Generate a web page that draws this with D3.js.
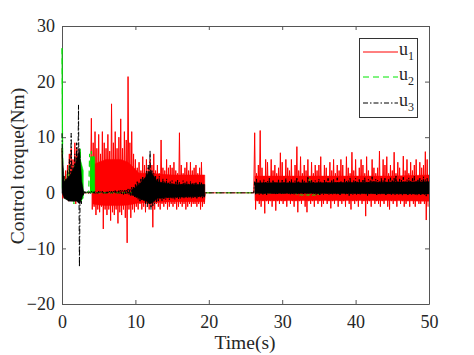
<!DOCTYPE html>
<html>
<head>
<meta charset="utf-8">
<script src="https://cdn.jsdelivr.net/npm/d3@7"></script>
<style>
  html, body { margin: 0; padding: 0; background: #fff; }
  svg { display: block; }
  text { font-family: "Liberation Serif", "Times New Roman", serif; }
</style>
</head>
<body>
<svg id="chart" width="474" height="355"></svg>
<script>
// ---- data (one peak/trough pair per 0.25 s bin) ----
const binWidth = 0.25;
const xTicks = [0, 10, 20, 30, 40, 50];
const yTicks = [-20, -10, 0, 10, 20, 30];
const seriesNames = ["u1", "u2", "u3"];

const u1Hi = [
  8,3,4,5, 7,8,6,9, 8,7,2,0.5, 0,0,0,0, 13.4,9,11,8,
  10.5,7,11,9, 8,10.5,7.5,16, 9,11,8,10, 13.3,8,11,9.5, 20.9,9,11,7,
  6,4.5,5.5,4, 6.5,5,6,4.5, 6,5,7,4, 5,3.5,9.5,4.5, 4,6,4.5,5,
  4.5,5.5,4,3.5, 10.8,5,3.5,4.5, 5.5,4,5.5,4, 4.5,5,3.5,4.5, 5.5,3,0,0,
  0,0,0,0, 0,0,0,0, 0,0,0,0, 0,0,0,0, 0,0,0,0,
  0,0,0,0, 0,10.8,3.5,5, 11.2,4.5,3,6, 5.5,3,6,4, 5,3.5,4.5,7.2,
  5.5,3,6,4.5, 4,6,3,5, 8.3,4,6.5,3.5, 5,4,6,3, 5.5,3.5,5,4,
  5,6.5,3,5, 4.5,3,5.5,4, 6,3.5,5,4, 6,5,3,6.5, 4.5,3.5,7.3,4,
  6,3,4.5,6, 5,3.5,6.5,4, 3,6,4.5,3.5, 4.5,7.5,3,6, 5,6.5,3.5,5,
  4,7.3,3.5,5.5, 4.5,3,6.6,4, 6,3.5,5.5,4, 5,6,3,5.5, 4.5,5,7.4,6
];
const u1Lo = [
  -1,-0.5,-1,-1.5, -1,-1.5,-1,-2, -1,-1.5,-0.5,0, 0,0,0,0, -3,-2.5,-4,-3,
  -3.5,-2.5,-6.5,-3, -4,-3,-5,-3.5, -4,-3,-5.5,-3.5, -4,-3,-4.5,-9, -3,-4.5,-3,-3.5,
  -2.5,-3,-2,-3, -2.5,-3.5,-2,-3, -2.5,-6.2,-3,-2, -2.5,-3,-2,-2.5, -2,-3,-2.5,-2,
  -2.5,-2,-3,-2.5, -2,-2.5,-2,-3, -2.5,-2,-2.5,-2, -2,-2.5,-2,-3, -2.5,-2,0,0,
  0,0,0,0, 0,0,0,0, 0,0,0,0, 0,0,0,0, 0,0,0,0,
  0,0,0,0, 0,-3,-1.5,-2, -2.5,-1.5,-3.7,-1.5, -2,-1.5,-2.5,-1.5, -3.2,-1.5,-2,-1.5,
  -2,-1.5,-2.5,-1.2, -2,-1.5,-2.5,-1.5, -3.5,-1.5,-2,-1.2, -2.5,-3.5,-1.5,-2, -1.5,-2.5,-1.2,-2,
  -1.5,-2.5,-2,-1.2, -2,-1.5,-2.8,-1.5, -2,-1.2,-2.5,-1.5, -2,-1.5,-2.5,-1.2, -2,-3,-1.5,-2,
  -1.5,-2.5,-1.2,-2, -1.5,-4.2,-2,-1.5, -2.5,-1.2,-2,-1.5, -2,-2.5,-1.5,-2, -1.2,-2.5,-3,-1.5,
  -2,-1.5,-2.5,-1.2, -2,-1.5,-2.5,-2, -1.5,-2.5,-1.2,-2, -2.5,-1.5,-2,-2, -1.5,-2,-4.9,-2.5
];
const u2Hi = [
  26,3,2,4, 5,3,4,5, 6,4,8,3, 0.1,0.1,0.1,7, 7.5,6.5,0.1,0.1,
  0.1,0.1,0.1,0.1, 0.1,0.1,0.1,0.1, 0.1,0.1,0.1,0.1, 0.1,0.1,0.1,0.1, 0.1,0.1,0.1,0.1,
  0.1,0.1,0.1,0.1, 0.1,0.1,0.1,0.1, 0.1,0.1,0.1,0.1, 0.1,0.1,0.1,0.1, 0.1,0.1,0.1,0.1,
  0.1,0.1,0.1,0.1, 0.1,0.1,0.1,0.1, 0.1,0.1,0.1,0.1, 0.1,0.1,0.1,0.1, 0.1,0.1,0,0,
  0,0,0,0, 0,0,0,0, 0,0,0,0, 0,0,0,0, 0,0,0,0,
  0,0,0,0, 0,0.1,0.1,0.1, 0.1,0.1,0.1,0.1, 0.1,0.1,0.1,0.1, 0.1,0.1,0.1,0.1,
  0.1,0.1,0.1,0.1, 0.1,0.1,0.1,0.1, -0.3,-0.3,-0.3,-0.3, -0.3,-0.3,-0.3,2.5, -0.3,-0.3,-0.3,-0.3,
  0.1,0.1,0.1,0.1, 0.1,0.1,0.1,0.1, 0.1,0.1,0.1,0.1, 0.1,0.1,0.1,0.1, 0.1,0.1,0.1,0.1,
  0.1,0.1,0.1,0.1, 0.1,0.1,0.1,0.1, 0.1,0.1,0.1,0.1, 0.1,0.1,0.1,0.1, 0.1,0.1,0.1,0.1,
  0.1,0.1,0.1,0.1, 0.1,0.1,0.1,0.1, 0.1,0.1,0.1,0.1, 0.1,0.1,0.1,0.1, 0.1,0.1,0.1,0.1
];
const u2Lo = [
  1,-1,-1.5,-1, -1.5,-1,-2,-1, -1.5,-1,-1.6,-0.5, 0,0,0,0, 0,0,0,0,
  -0.1,-0.1,-0.1,-0.1, -0.1,-0.1,-0.1,-0.1, -0.1,-0.1,-0.1,-0.1, -0.1,-0.1,-0.1,-0.1, -0.1,-0.1,-0.1,-0.1,
  -0.1,-0.1,-0.1,-0.1, -0.1,-0.1,-0.1,-0.1, -0.1,-0.1,-0.1,-0.1, -0.1,-0.1,-0.1,-0.1, -0.1,-0.1,-0.1,-0.1,
  -0.1,-0.1,-0.1,-0.1, -0.1,-0.1,-0.1,-0.1, -0.1,-0.1,-0.1,-0.1, -0.1,-0.1,-0.1,-0.1, -0.1,-0.1,0,0,
  0,0,0,0, 0,0,0,0, 0,0,0,0, 0,0,0,0, 0,0,0,0,
  0,0,0,0, 0,-0.1,-0.1,-0.1, -0.1,-0.1,-0.1,-0.1, -0.1,-0.1,-0.1,-0.1, -0.1,-0.1,-0.1,-0.1,
  -0.1,-0.1,-0.1,-0.1, -0.1,-0.1,-0.1,-0.1, -0.5,-0.5,-0.5,-0.5, -0.5,-0.5,-0.5,-0.5, -0.5,-0.5,-0.5,-0.5,
  -0.1,-0.1,-0.1,-0.1, -0.1,-0.1,-0.1,-0.1, -0.1,-0.1,-0.1,-0.1, -0.1,-0.1,-0.1,-0.1, -0.1,-0.1,-0.1,-0.1,
  -0.1,-0.1,-0.1,-0.1, -0.1,-0.1,-0.1,-0.1, -0.1,-0.1,-0.1,-0.1, -0.1,-0.1,-0.1,-0.1, -0.1,-0.1,-0.1,-0.1,
  -0.1,-0.1,-0.1,-0.1, -0.1,-0.1,-0.1,-0.1, -0.1,-0.1,-0.1,-0.1, -0.1,-0.1,-0.1,-0.1, -0.1,-0.1,-0.1,-0.1
];
const u3Hi = [
  10.7,3,2.5,4, 6,10.7,5,7, 9,15.8,4,1, 0.3,0.2,0.3,0.2, 0.3,0.2,0.3,0.2,
  0.3,0.2,0.3,0.2, 0.3,0.2,0.3,0.3, 0.3,0.4,0.3,0.4, 0.5,0.4,0.6,0.5, 0.7,0.8,1,1.2,
  1.5,2,1.8,2.5, 3,2.5,4,5, 7.6,4,3.5,3, 2.5,3,2,2.5, 2,2.5,1.8,2,
  2.2,1.8,2,2.3, 2,1.7,2.2,1.8, 2,1.6,2.1,1.8, 1.7,2,1.6,1.9, 1.8,1.5,0,0,
  0,0,0,0, 0,0,0,0, 0,0,0,0, 0,0,0,0, 0,0,0,0,
  0,0,0,0, 0,2,2.5,1.8, 2.2,1.6,2.4,1.9, 2.1,2.6,1.7,2.2, 2,1.8,2.5,1.7,
  2.3,1.9,2.6,1.8, 2.1,2.4,1.7,2.2, 2.8,2,1.8,2.5, 2.2,1.7,3,2.1, 2.4,1.9,2.2,1.8,
  2.5,2,1.7,2.3, 2.1,2.6,1.8,2.2, 2.4,1.9,2.7,2, 2.2,1.8,2.5,2.1, 2.3,2.8,1.9,2.2,
  2.6,2.1,2.4,1.9, 2.3,2.7,2,2.4, 2.2,2.9,2.1,2.5, 2.3,2,2.6,2.2, 2.8,2.1,2.4,2.7,
  2.2,2.6,3.2,2.1, 2.5,2.3,2.8,2, 2.4,2.7,2.1,2.6, 3,2.2,2.5,2.8, 2.3,2.9,2.4,2.6
];
const u3Lo = [
  1,-0.5,-1,-1.5, -0.5,-1,-1.5,-1, -1,-13.3,-2,-0.5, -0.1,-0.1,-0.1,-0.1, -0.1,-0.1,-0.1,-0.1,
  -0.1,-0.1,-0.1,-0.1, -0.1,-0.1,-0.1,-0.1, -0.1,-0.2,-0.1,-0.2, -0.2,-0.3,-0.2,-0.3, -0.4,-0.5,-0.6,-0.8,
  -1,-1.2,-1.5,-1.3, -1.5,-2,-2.5,-2, -3,-2.5,-2,-1.8, -1.5,-1.2,-1.4,-1.1, -1.2,-1,-1.3,-1,
  -1,-1.2,-0.9,-1.1, -1,-0.8,-1.1,-0.9, -1,-0.8,-1,-0.9, -0.8,-1,-0.9,-0.8, -1,-0.8,0,0,
  0,0,0,0, 0,0,0,0, 0,0,0,0, 0,0,0,0, 0,0,0,0,
  0,0,0,0, 0,-0.4,-0.2,-0.3, -0.1,-0.3,-0.2,-0.4, -0.2,-0.1,-0.3,-0.2, -0.4,-0.2,-0.1,-0.3,
  -0.2,-0.3,-0.1,-0.2, -0.4,-0.2,-0.3,-0.1, -0.2,-0.2,-0.1,-0.2, -0.1,-0.2,-0.1,-0.2, -0.1,-0.2,-0.3,-0.2,
  -0.4,-0.2,-0.3,-0.1, -0.2,-0.4,-0.2,-0.3, -0.1,-0.3,-0.2,-0.4, -0.2,-0.1,-0.3,-0.2, -0.5,-0.2,-0.3,-0.1,
  -0.3,-0.2,-0.4,-0.1, -0.2,-0.3,-0.5,-0.2, -0.1,-0.3,-0.2,-0.4, -0.2,-0.3,-0.1,-0.2, -0.4,-0.2,-0.3,-0.5,
  -0.2,-0.4,-0.1,-0.3, -0.2,-0.5,-0.3,-0.2, -0.4,-0.1,-0.3,-0.2, -0.3,-0.5,-0.2,-0.4, -0.2,-0.3,-0.6,-0.3
];

// dense "core" band of each signal (where the oscillation fills solid); null = no band
const u1CoreT  = [4.2, 5, 6, 7, 8, 9, 9.8, 10.5, 12, 15, 19.45, 23, 26.3, 30, 35, 40, 45, 50];
const u1CoreHi = [5, 5.5, 6, 6, 6, 5.5, 4.5, 3.5, 3.5, 3.2, 3.2, null, 3, 3, 3, 3, 3, 3.2];
const u1CoreLo = [-2, -2.2, -2.3, -2.3, -2.3, -2.2, -2, -1.8, -1.8, -1.6, -1.6, null, -1.4, -1.4, -1.4, -1.4, -1.4, -1.5];
const u2CoreT  = [0, 0.12, 0.3, 2.5, 2.9, 3.3, 3.9, 4.45];
const u2CoreHi = [26, 2, null, 6, 4, null, 6.5, 6.5];
const u2CoreLo = [1, 0, null, -1.5, -1, null, 0, 0];
const u3CoreT  = [0, 0.3, 1, 1.5, 2, 2.4, 2.7, 2.95, 6, 9.5, 10.5, 11.5, 12, 13, 15, 19.45, 23, 26.3, 35, 50];
const u3CoreHi = [8, 2, 3, 4, 6, 8, 2, 0.2, null, 0.5, 1.5, 3, 4, 2, 1.5, 1.5, null, 1.8, 1.8, 2];
const u3CoreLo = [0, -1, -1.5, -1.5, -1.5, -2, -1, -0.1, null, -0.3, -1, -1.5, -2, -1, -0.8, -0.6, null, -0.1, -0.1, -0.2];

// ---- layout ----
const svg = d3.select("#chart");
const plot = { left: 62, right: 429, top: 26, bottom: 304 };
const x = d3.scaleLinear().domain([0, 50]).range([plot.left, plot.right]);
const y = d3.scaleLinear().domain([-20, 30]).range([plot.bottom, plot.top]);
const axisColor = "#555";
const textColor = "#262626";

svg.append("rect").attr("width", 474).attr("height", 355).attr("fill", "#fff");

svg.append("defs").append("clipPath").attr("id", "clip")
  .append("rect")
  .attr("x", plot.left - 1).attr("y", plot.top)
  .attr("width", plot.right - plot.left + 1).attr("height", plot.bottom - plot.top);

// ---- axes (MATLAB style: inward ticks on all four sides) ----
function styleAxis(sel) {
  sel.select(".domain").attr("stroke", axisColor);
  sel.selectAll(".tick line").attr("stroke", axisColor);
  sel.selectAll("text").attr("fill", textColor).style("font-size", "18px")
    .style("font-family", "'Liberation Serif', 'Times New Roman', serif");
}
const gx = svg.append("g").attr("transform", `translate(0,${plot.bottom})`)
  .call(d3.axisBottom(x).tickValues(xTicks).tickSizeInner(-4).tickSizeOuter(0).tickPadding(0));
gx.call(styleAxis);
gx.selectAll("text").attr("dy", null).attr("y", 24);

const gxTop = svg.append("g").attr("transform", `translate(0,${plot.top})`)
  .call(d3.axisTop(x).tickValues(xTicks).tickSizeInner(-4).tickSizeOuter(0).tickFormat(""));
gxTop.call(styleAxis);

const gy = svg.append("g").attr("transform", `translate(${plot.left},0)`)
  .call(d3.axisLeft(y).tickValues(yTicks).tickSizeInner(-4).tickSizeOuter(0).tickPadding(7));
gy.call(styleAxis);

const gyRight = svg.append("g").attr("transform", `translate(${plot.right},0)`)
  .call(d3.axisRight(y).tickValues(yTicks).tickSizeInner(-4).tickSizeOuter(0).tickFormat(""));
gyRight.call(styleAxis);

// ---- signals ----
function zigzag(hi, lo) {
  const pts = [];
  hi.forEach((h, i) => {
    pts.push([i * binWidth, h]);
    pts.push([i * binWidth + binWidth / 2, lo[i]]);
  });
  return pts;
}
const line = d3.line().x(d => x(d[0])).y(d => y(d[1]));
const area = d3.area()
  .defined(d => d.hi !== null)
  .x(d => x(d.t)).y0(d => y(d.lo)).y1(d => y(d.hi));

const series = [
  { name: "u1", hi: u1Hi, lo: u1Lo, cT: u1CoreT, cHi: u1CoreHi, cLo: u1CoreLo, color: "#ff0000", dash: null },
  { name: "u2", hi: u2Hi, lo: u2Lo, cT: u2CoreT, cHi: u2CoreHi, cLo: u2CoreLo, color: "#00e600", dash: "6,4" },
  { name: "u3", hi: u3Hi, lo: u3Lo, cT: u3CoreT, cHi: u3CoreHi, cLo: u3CoreLo, color: "#000000", dash: "5,2,1.5,2" }
];

const g = svg.append("g").attr("clip-path", "url(#clip)");
series.forEach(s => {
  const core = s.cT.map((t, i) => ({ t, hi: s.cHi[i], lo: s.cLo[i] }));
  g.append("path")
    .datum(core)
    .attr("d", area)
    .attr("fill", s.color)
    .attr("stroke", s.color)
    .attr("stroke-width", 0.5);
  g.append("path")
    .datum(zigzag(s.hi, s.lo))
    .attr("d", line)
    .attr("fill", "none")
    .attr("stroke", s.color)
    .attr("stroke-width", 1)
    .attr("stroke-dasharray", s.dash);
});

// ---- axis titles ----
svg.append("text")
  .attr("x", 245).attr("y", 349)
  .attr("text-anchor", "middle")
  .attr("fill", textColor)
  .style("font-size", "19.5px")
  .text("Time(s)");
svg.append("text")
  .attr("transform", "translate(24,166) rotate(-90)")
  .attr("text-anchor", "middle")
  .attr("fill", textColor)
  .style("font-size", "19.5px")
  .text("Control torque(Nm)");

// ---- legend ----
const legend = svg.append("g");
legend.append("rect")
  .attr("x", 359.5).attr("y", 38.5).attr("width", 58).attr("height", 79)
  .attr("fill", "#fff").attr("stroke", "#333").attr("stroke-width", 1);
const legY = [52, 77, 103];
series.forEach((s, i) => {
  legend.append("line")
    .attr("x1", 363).attr("x2", 398)
    .attr("y1", legY[i]).attr("y2", legY[i])
    .attr("stroke", s.color).attr("stroke-width", 1)
    .attr("stroke-dasharray", s.dash);
  const t = legend.append("text")
    .attr("x", 399).attr("y", legY[i] + 3)
    .attr("fill", textColor)
    .style("font-size", "18px");
  t.append("tspan").text(s.name.charAt(0));
  t.append("tspan").attr("dy", 5).style("font-size", "12px").text(s.name.slice(1));
});
</script>
</body>
</html>
